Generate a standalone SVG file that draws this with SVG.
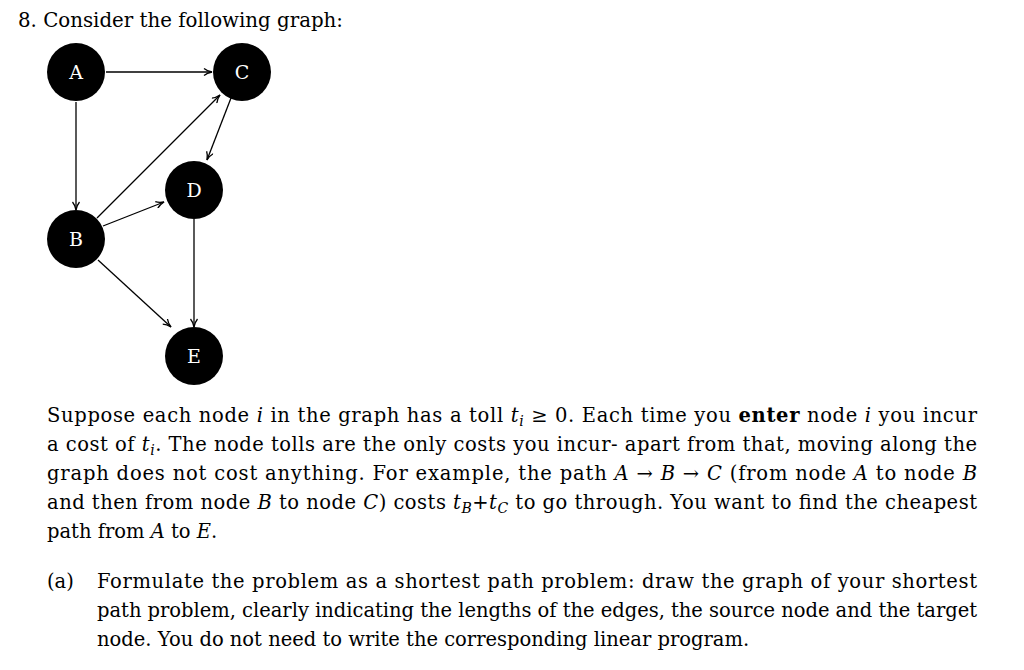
<svg xmlns="http://www.w3.org/2000/svg" width="1024" height="670" viewBox="0 0 1024 670">
<style>
.n{fill:#000}
.nl{fill:#fff;font-family:"DejaVu Serif",serif;font-size:19px;text-anchor:middle}
.t{font-family:"DejaVu Serif",serif;font-size:19.5px;fill:#000}
.e{stroke:#000;stroke-width:1.3;fill:none;marker-end:url(#ar)}
</style>
<defs><marker id="ar" markerWidth="10" markerHeight="8" refX="9" refY="4" orient="auto" markerUnits="userSpaceOnUse"><path d="M1,0.5 Q4,3 9,4 Q4,5 1,7.5" fill="none" stroke="#000" stroke-width="1.3"/></marker></defs>
<rect width="1024" height="670" fill="#fff"/>
<g id="edges">
<line class="e" x1="106" y1="72" x2="212" y2="72"/>
<line class="e" x1="76" y1="102" x2="76" y2="210"/>
<line class="e" x1="231" y1="98" x2="207" y2="160"/>
<line class="e" x1="97" y1="218" x2="220" y2="95"/>
<line class="e" x1="103" y1="226" x2="164" y2="202"/>
<line class="e" x1="98" y1="260" x2="171" y2="327"/>
<line class="e" x1="194" y1="219" x2="194" y2="327"/>
</g>
<g id="A"><circle class="n" cx="76" cy="72" r="29"/><text class="nl" x="76" y="79">A</text></g>
<g id="C"><circle class="n" cx="242" cy="72" r="29"/><text class="nl" x="242" y="79">C</text></g>
<g id="D"><circle class="n" cx="194" cy="190" r="29"/><text class="nl" x="194" y="197">D</text></g>
<g id="B"><circle class="n" cx="76" cy="239" r="29"/><text class="nl" x="76" y="246">B</text></g>
<g id="E"><circle class="n" cx="194" cy="356" r="29"/><text class="nl" x="194" y="363">E</text></g>
<text class="t" x="18" y="27" textLength="325" lengthAdjust="spacingAndGlyphs">8. Consider the following graph:</text>
<text class="t" x="47" y="422" textLength="930" lengthAdjust="spacing">Suppose each node <tspan font-style="italic">i</tspan> in the graph has a toll <tspan font-style="italic">t<tspan font-size="14" dy="4">i</tspan></tspan><tspan dy="-4"> ≥ 0. Each time you </tspan><tspan font-weight="bold">enter</tspan> node <tspan font-style="italic">i</tspan> you incur</text>
<text class="t" x="47" y="451" textLength="930" lengthAdjust="spacing">a cost of <tspan font-style="italic">t<tspan font-size="14" dy="4">i</tspan></tspan><tspan dy="-4">. The node tolls are the only costs you incur- apart from that, moving along the</tspan></text>
<text class="t" x="47" y="480" textLength="930" lengthAdjust="spacing">graph does not cost anything. For example, the path <tspan font-style="italic">A</tspan> → <tspan font-style="italic">B</tspan> → <tspan font-style="italic">C</tspan> (from node <tspan font-style="italic">A</tspan> to node <tspan font-style="italic">B</tspan></text>
<text class="t" x="47" y="509" textLength="930" lengthAdjust="spacing">and then from node <tspan font-style="italic">B</tspan> to node <tspan font-style="italic">C</tspan>) costs <tspan font-style="italic">t<tspan font-size="14" dy="4">B</tspan></tspan><tspan dy="-4">+</tspan><tspan font-style="italic">t<tspan font-size="14" dy="4">C</tspan></tspan><tspan dy="-4"> to go through. You want to find the cheapest</tspan></text>
<text class="t" x="47" y="538">path from <tspan font-style="italic">A</tspan> to <tspan font-style="italic">E</tspan>.</text>
<text class="t" x="47" y="588">(a)</text>
<text class="t" x="97" y="588" textLength="880" lengthAdjust="spacing">Formulate the problem as a shortest path problem: draw the graph of your shortest</text>
<text class="t" x="97" y="617" textLength="880" lengthAdjust="spacing">path problem, clearly indicating the lengths of the edges, the source node and the target</text>
<text class="t" x="97" y="646">node. You do not need to write the corresponding linear program.</text>
</svg>
